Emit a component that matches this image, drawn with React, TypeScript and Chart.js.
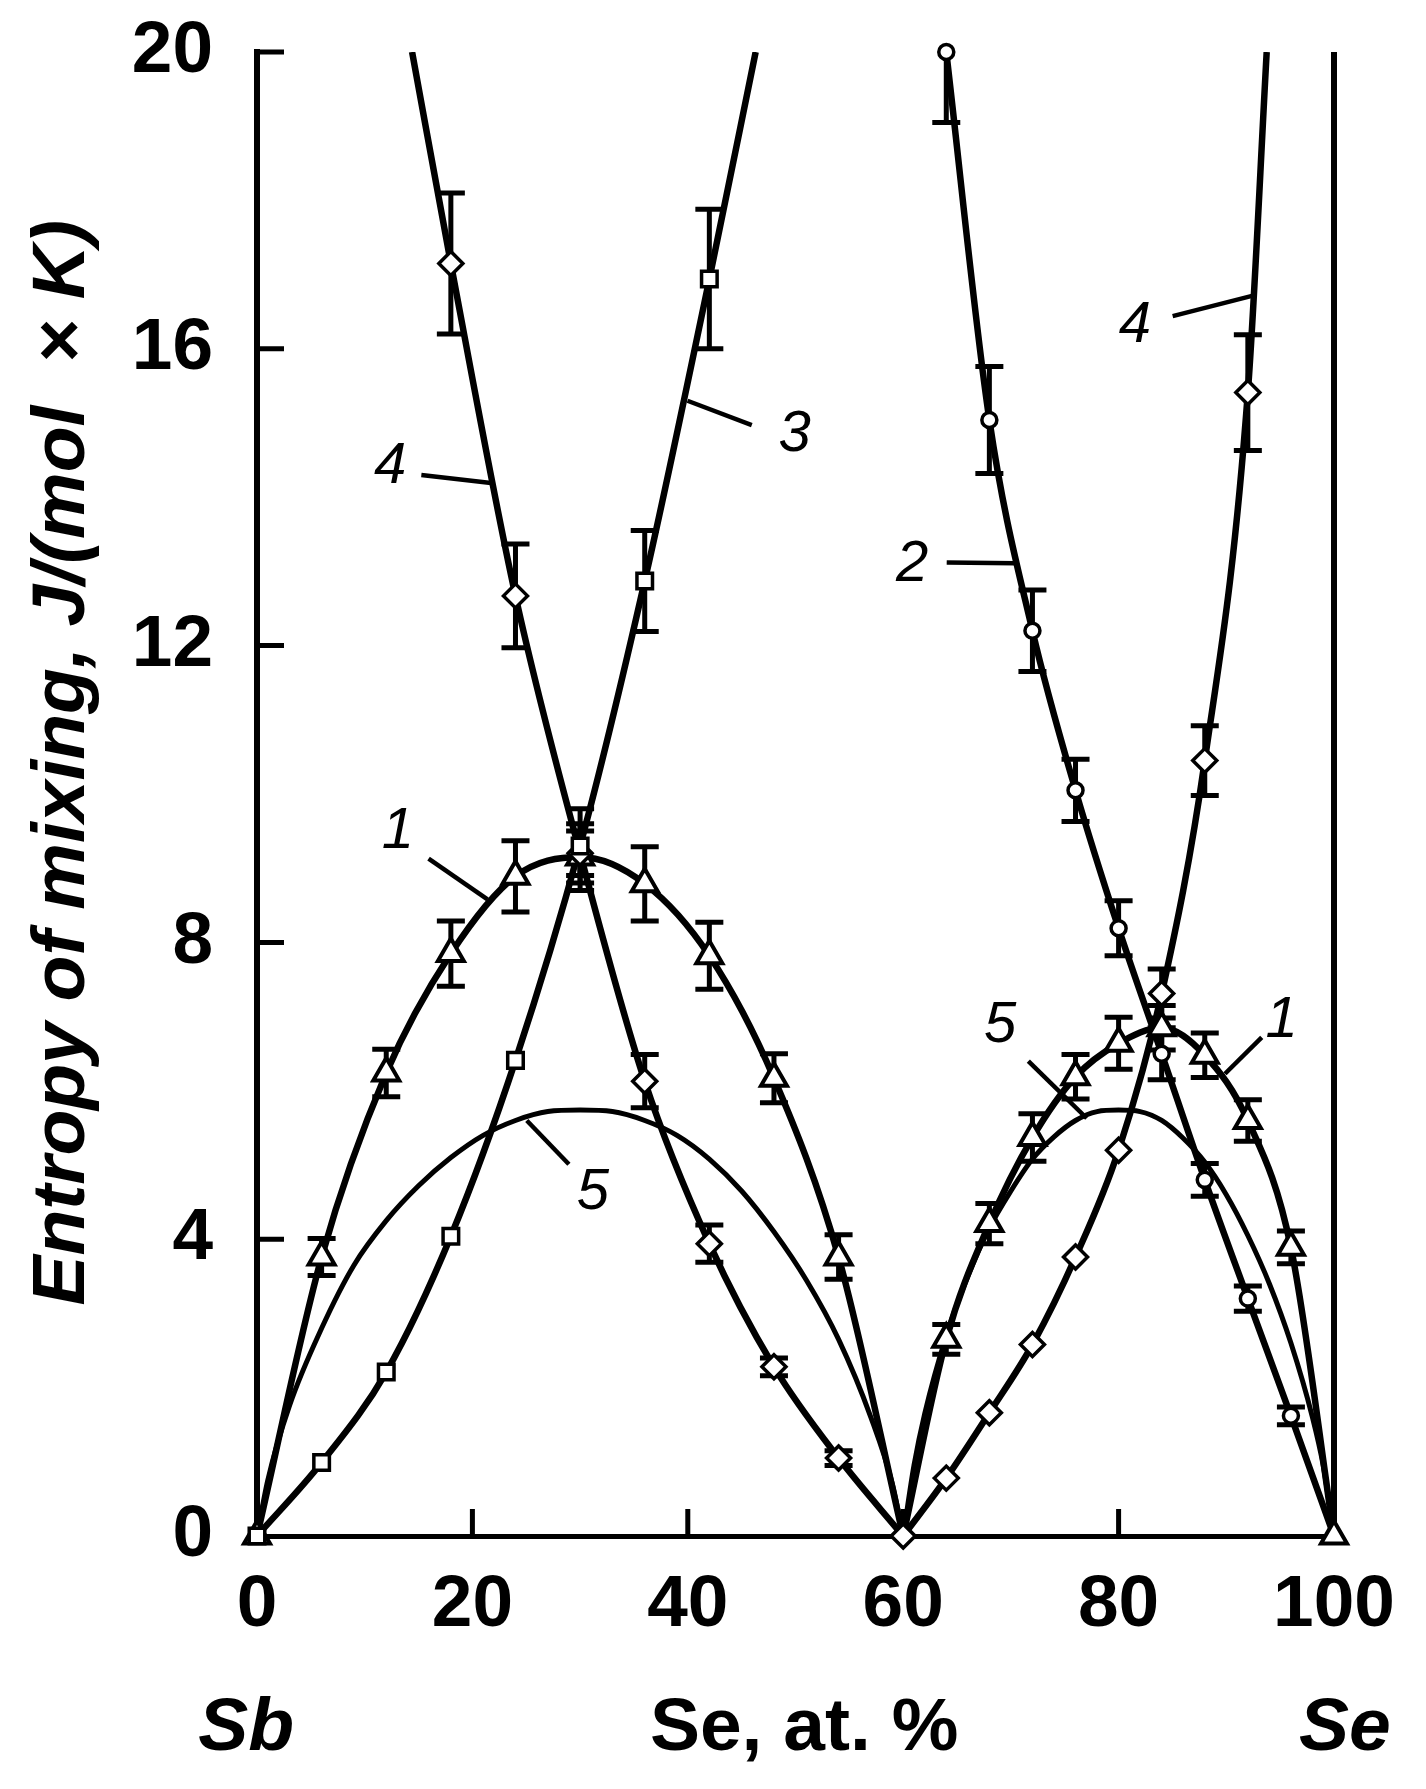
import React, { useEffect, useRef } from 'react';
import { Chart, registerables } from 'chart.js';

Chart.register(...registerables);

// ---------- axis ticks ----------
const X_TICKS = [0, 20, 40, 60, 80, 100];
const Y_TICKS = [0, 4, 8, 12, 16, 20];

// ---------- curve 1 (triangles) ----------
const TRI_X = [0, 6, 12, 18, 24, 30, 36, 42, 48, 54, 64, 68, 72, 76, 80, 84, 88, 92, 96, 100];
const TRI_Y = [0, 3.76, 6.24, 7.85, 8.89, 9.15, 8.79, 7.82, 6.17, 3.76, 2.65, 4.21, 5.37, 6.19, 6.64, 6.85, 6.48, 5.6, 3.89, 0];
const TRI_ERR = [0, 0.25, 0.32, 0.44, 0.48, 0.45, 0.5, 0.45, 0.33, 0.3, 0.2, 0.27, 0.32, 0.3, 0.35, 0.3, 0.3, 0.28, 0.22, 0];

// ---------- curve 2 (circles) ----------
const CIRC_X = [64, 68, 72, 76, 80, 84, 88, 92, 96];
const CIRC_Y = [20, 15.04, 12.2, 10.05, 8.19, 6.5, 4.8, 3.2, 1.62];
const CIRC_ERR = [0.95, 0.72, 0.55, 0.42, 0.37, 0.35, 0.22, 0.17, 0.12];
const C2_END_X = [100];
const C2_END_Y = [0];

// ---------- curve 3 (squares) ----------
const SQ_X = [0, 6, 12, 18, 24, 30, 36, 42];
const SQ_Y = [0, 0.99, 2.21, 4.04, 6.41, 9.3, 12.87, 16.94];
const SQ_ERR = [0, 0, 0, 0, 0, 0.5, 0.68, 0.94];
const C3_END_X = [46.3];
const C3_END_Y = [20];

// ---------- curve 4 (diamonds) ----------
const DIA_X = [18, 24, 30, 36, 42, 48, 54, 60, 64, 68, 72, 76, 80, 84, 88, 92];
const DIA_Y = [17.15, 12.67, 9.2, 6.13, 3.94, 2.28, 1.05, 0, 0.78, 1.66, 2.58, 3.76, 5.2, 7.31, 10.45, 15.41];
const DIA_ERR = [0.95, 0.7, 0.3, 0.36, 0.25, 0.12, 0.1, 0, 0, 0, 0, 0, 0, 0.33, 0.47, 0.78];
const C4_START_X = [14.4];
const C4_START_Y = [20];
const C4_END_X = [93.75];
const C4_END_Y = [20];

// ---------- curve 5 (no markers) ----------
const C5_LEFT_X = [0, 1, 3, 6, 9, 12, 15, 18, 21, 24, 27, 30, 33, 36, 39, 42, 45, 48, 51, 54, 57, 59, 60];
const C5_LEFT_Y = [0, 0.75, 1.75, 2.8, 3.65, 4.25, 4.72, 5.1, 5.4, 5.6, 5.72, 5.74, 5.72, 5.6, 5.4, 5.08, 4.65, 4.1, 3.45, 2.65, 1.6, 0.7, 0];
const C5_RIGHT_X = [60, 61, 62, 64, 66, 68, 70, 72, 74, 76, 78, 80, 82, 84, 86, 88, 90, 92, 94, 96, 98, 99, 100];
const C5_RIGHT_Y = [0, 0.95, 1.65, 2.7, 3.5, 4.15, 4.65, 5.08, 5.38, 5.6, 5.72, 5.74, 5.72, 5.6, 5.36, 5.04, 4.6, 4.05, 3.4, 2.6, 1.6, 0.95, 0];

// ---------- curve labels (data units) ----------
const LABEL_TEXT = ['4', '3', '1', '5', '4', '2', '5', '1'];
const LABEL_X = [12.35, 49.92, 13.09, 31.19, 81.52, 60.82, 68.99, 95.14];
const LABEL_Y = [14.41, 14.84, 9.49, 4.62, 16.31, 13.09, 6.87, 6.94];
const LEADER_X1 = [15.26, 39.97, 15.93, 25.05, 85.02, 64.04, 71.62, 89.88];
const LEADER_Y1 = [14.3, 15.3, 9.13, 5.6, 16.44, 13.12, 6.4, 6.23];
const LEADER_X2 = [21.73, 45.94, 21.4, 28.96, 92.57, 70.38, 77.04, 93.29];
const LEADER_Y2 = [14.19, 14.97, 8.58, 5.01, 16.72, 13.11, 5.63, 6.72];

const Y_TITLE = 'Entropy of mixing, J/(mol  \u00d7 K)';
const X_TITLE = 'Se, at. %';
const X_LEFT_NAME = 'Sb';
const X_RIGHT_NAME = 'Se';

const FONT = '"Liberation Sans", Arial, Helvetica, sans-serif';

const pts = (xs: number[], ys: number[]) => xs.map((x, i) => ({ x, y: ys[i] }));

const TRI = pts(TRI_X, TRI_Y);
const CIRC = pts(CIRC_X, CIRC_Y);
const SQ = pts(SQ_X, SQ_Y);
const DIA = pts(DIA_X, DIA_Y);

const C1_LEFT = [...TRI.filter((p) => p.x < 60), ...pts([60], [0])];
const C1_RIGHT = [...pts([60], [0]), ...TRI.filter((p) => p.x > 60)];
const C2 = [...CIRC, ...pts(C2_END_X, C2_END_Y)];
const C3 = [...SQ, ...pts(C3_END_X, C3_END_Y)];
const C4_LEFT = [...pts(C4_START_X, C4_START_Y), ...DIA.filter((p) => p.x <= 60)];
const C4_RIGHT = [...DIA.filter((p) => p.x >= 60), ...pts(C4_END_X, C4_END_Y)];
const C5_LEFT = pts(C5_LEFT_X, C5_LEFT_Y);
const C5_RIGHT = pts(C5_RIGHT_X, C5_RIGHT_Y);

const ERROR_SETS = [
  { xs: TRI_X, ys: TRI_Y, errs: TRI_ERR },
  { xs: CIRC_X, ys: CIRC_Y, errs: CIRC_ERR },
  { xs: SQ_X, ys: SQ_Y, errs: SQ_ERR },
  { xs: DIA_X, ys: DIA_Y, errs: DIA_ERR },
];

const decorPlugin = {
  id: 'decor',
  beforeDatasetsDraw(chart: any) {
    const { ctx, chartArea } = chart;
    const xs = chart.scales.x;
    const ys = chart.scales.y;
    ctx.save();
    ctx.strokeStyle = '#000';
    ctx.lineCap = 'butt';

    // right frame line at 100 %
    ctx.lineWidth = 6;
    const xr = xs.getPixelForValue(100);
    ctx.beginPath();
    ctx.moveTo(xr, ys.getPixelForValue(20));
    ctx.lineTo(xr, ys.getPixelForValue(0));
    ctx.stroke();

    // inward tick marks
    ctx.lineWidth = 5;
    ctx.beginPath();
    for (const v of Y_TICKS) {
      if (v === 0) continue;
      const py = ys.getPixelForValue(v);
      ctx.moveTo(chartArea.left, py);
      ctx.lineTo(chartArea.left + 27, py);
    }
    for (const v of X_TICKS) {
      if (v === 0 || v === 100) continue;
      const px = xs.getPixelForValue(v);
      ctx.moveTo(px, chartArea.bottom);
      ctx.lineTo(px, chartArea.bottom - 27);
    }
    ctx.stroke();

    // error bars
    ctx.save();
    ctx.beginPath();
    ctx.rect(chartArea.left, chartArea.top - 1, chartArea.right - chartArea.left + 20, chartArea.bottom - chartArea.top + 20);
    ctx.clip();
    ctx.lineWidth = 5;
    for (const set of ERROR_SETS) {
      set.xs.forEach((xv, i) => {
        const e = set.errs[i];
        if (!e) return;
        const px = xs.getPixelForValue(xv);
        const pt = ys.getPixelForValue(set.ys[i] + e);
        const pb = ys.getPixelForValue(set.ys[i] - e);
        ctx.beginPath();
        ctx.moveTo(px, pt);
        ctx.lineTo(px, pb);
        ctx.moveTo(px - 14, pt);
        ctx.lineTo(px + 14, pt);
        ctx.moveTo(px - 14, pb);
        ctx.lineTo(px + 14, pb);
        ctx.stroke();
      });
    }
    ctx.restore();
    ctx.restore();
  },
  afterDraw(chart: any) {
    const { ctx, chartArea } = chart;
    const xs = chart.scales.x;
    const ys = chart.scales.y;
    ctx.save();
    ctx.fillStyle = '#000';
    ctx.strokeStyle = '#000';

    // curve labels with leaders
    ctx.lineWidth = 4.5;
    ctx.lineCap = 'butt';
    ctx.font = `italic 58px ${FONT}`;
    ctx.textAlign = 'center';
    ctx.textBaseline = 'middle';
    LABEL_TEXT.forEach((t, i) => {
      ctx.beginPath();
      ctx.moveTo(xs.getPixelForValue(LEADER_X1[i]), ys.getPixelForValue(LEADER_Y1[i]));
      ctx.lineTo(xs.getPixelForValue(LEADER_X2[i]), ys.getPixelForValue(LEADER_Y2[i]));
      ctx.stroke();
      ctx.fillText(t, xs.getPixelForValue(LABEL_X[i]), ys.getPixelForValue(LABEL_Y[i]));
    });

    // bottom names
    const baseY = chartArea.bottom + 214;
    ctx.textBaseline = 'alphabetic';
    ctx.font = `italic bold 75px ${FONT}`;
    ctx.fillText(X_LEFT_NAME, xs.getPixelForValue(-1), baseY);
    ctx.fillText(X_RIGHT_NAME, xs.getPixelForValue(101), baseY);
    ctx.font = `bold 75px ${FONT}`;
    ctx.fillText(X_TITLE, xs.getPixelForValue(50.8), baseY);

    // y title
    ctx.font = `italic bold 75px ${FONT}`;
    ctx.translate(chartArea.left - 173, ys.getPixelForValue(10.42));
    ctx.rotate(-Math.PI / 2);
    ctx.fillText(Y_TITLE, 0, 0);
    ctx.restore();
  },
};

const lineDs = (data: any[], width: number) => ({
  data,
  showLine: true,
  borderColor: '#000',
  borderWidth: width,
  pointRadius: 0,
  pointHoverRadius: 0,
  fill: false,
  cubicInterpolationMode: 'monotone' as const,
  order: 1,
});

const markerDs = (data: any[], style: string, radius: number, bw: number) => ({
  data,
  showLine: false,
  pointStyle: style,
  pointRadius: radius,
  pointHoverRadius: radius,
  pointBorderWidth: bw,
  pointBackgroundColor: '#fff',
  pointBorderColor: '#000',
  clip: false as const,
  order: 0,
});

export default function App() {
  const ref = useRef<HTMLCanvasElement>(null);

  useEffect(() => {
    const canvas = ref.current;
    if (!canvas) return;
    const tickFont = { family: FONT, size: 73, weight: 'bold' as const };
    const chart = new Chart(canvas, {
      type: 'scatter',
      data: {
        datasets: [
          markerDs(SQ, 'rect', 11, 3.5),
          markerDs(DIA, 'rectRot', 12, 3.5),
          markerDs(CIRC, 'circle', 7.5, 3.5),
          markerDs(TRI, 'triangle', 15, 4),
          lineDs(C1_LEFT, 6.5),
          lineDs(C1_RIGHT, 6.5),
          lineDs(C2, 6.5),
          lineDs(C3, 6.5),
          lineDs(C4_LEFT, 6.5),
          lineDs(C4_RIGHT, 6.5),
          lineDs(C5_LEFT, 5),
          lineDs(C5_RIGHT, 5),
        ] as any,
      },
      options: {
        responsive: false,
        maintainAspectRatio: false,
        animation: false,
        devicePixelRatio: 1,
        events: [],
        layout: { padding: { left: 130, right: 92, top: 52, bottom: 153 } },
        plugins: { legend: { display: false }, tooltip: { enabled: false } },
        scales: {
          x: {
            type: 'linear',
            position: 'bottom',
            min: 0,
            max: 100,
            ticks: {
              stepSize: 20,
              autoSkip: false,
              maxRotation: 0,
              color: '#000',
              font: tickFont,
              padding: 26,
              callback: (v: any) => (X_TICKS.includes(Number(v)) ? String(v) : ''),
            },
            grid: { display: false, drawTicks: false },
            border: { display: true, color: '#000', width: 5 },
            afterFit: (s: any) => {
              s.height = 100;
              s.paddingLeft = 0;
              s.paddingRight = 0;
            },
          },
          y: {
            type: 'linear',
            position: 'left',
            min: 0,
            max: 20,
            ticks: {
              stepSize: 4,
              color: '#000',
              font: tickFont,
              padding: 44,
              callback: (v: any) => (Y_TICKS.includes(Number(v)) ? String(v) : ''),
            },
            grid: { display: false, drawTicks: false },
            border: { display: true, color: '#000', width: 6 },
            afterFit: (s: any) => {
              s.width = 127;
              s.paddingTop = 0;
              s.paddingBottom = 0;
            },
          },
        },
      },
      plugins: [decorPlugin],
    });
    return () => chart.destroy();
  }, []);

  return (
    <div style={{ position: 'absolute', left: 0, top: 0, width: 1426, height: 1789, background: '#fff' }}>
      <canvas ref={ref} width={1426} height={1789} style={{ width: 1426, height: 1789, display: 'block' }} />
    </div>
  );
}
